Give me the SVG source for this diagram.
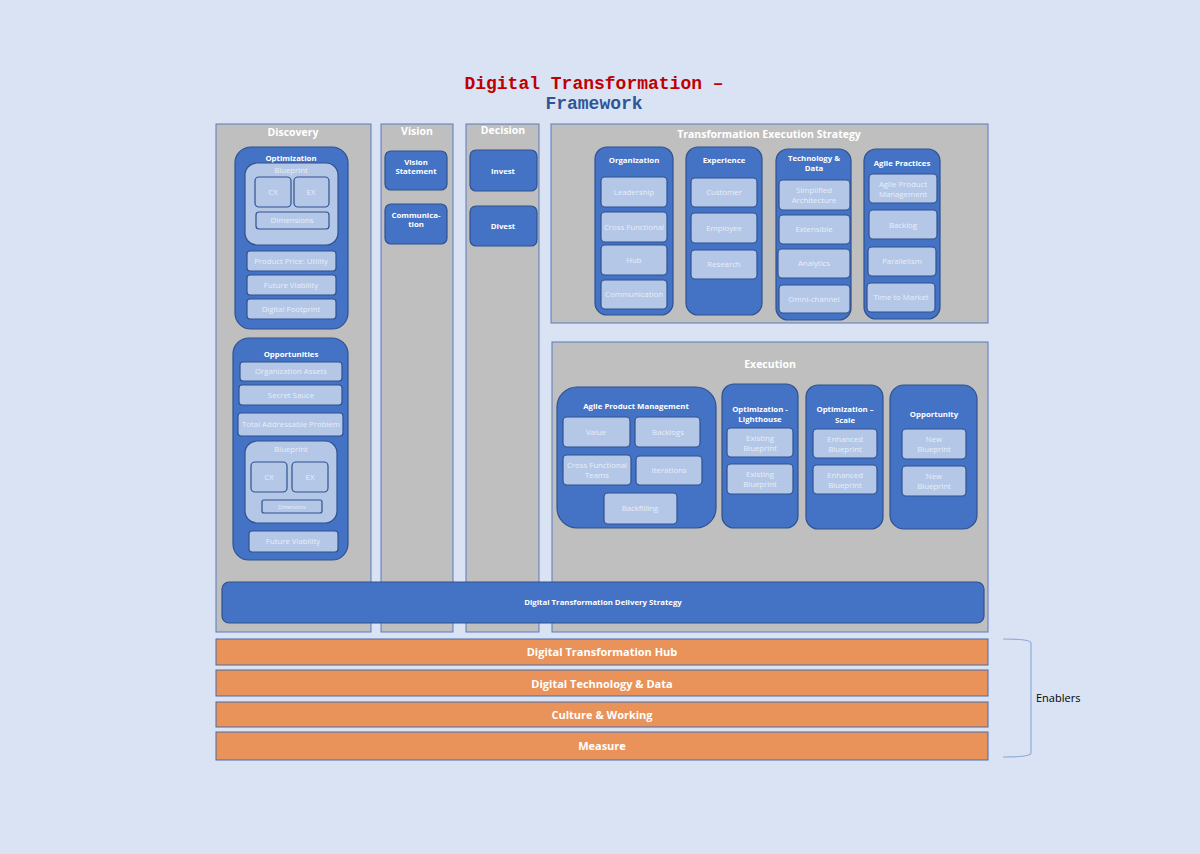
<svg xmlns="http://www.w3.org/2000/svg" width="1200" height="854" viewBox="0 0 1200 854">
<style>
text{font-family:"Open Sans","Liberation Sans",sans-serif;text-anchor:middle}
.g{fill:#bfbfbf;stroke:#5a7bc0;stroke-width:1}
.b{fill:#4472c4;stroke:#2f528f;stroke-width:1.2}
.l{fill:#b4c7e7;stroke:#2f528f;stroke-width:1.2}
.o{fill:#e9935a;stroke:#4a6aaa;stroke-width:1}
.h{fill:#fff;font-weight:bold;font-size:10.5px}
.hb{fill:#fff;font-weight:bold;font-size:7.8px}
.t{fill:#e8eef8;font-size:7.8px}
.oh{fill:#fff;font-weight:bold;font-size:11px}
.ti{font-family:"Liberation Mono",monospace;font-weight:bold;font-size:18px}
</style>
<rect width="1200" height="854" fill="#dae3f3"/>
<g id="title">
<text class="ti" x="594" y="89" fill="#c00000">Digital Transformation –</text>
<text class="ti" x="594" y="109" fill="#2f5597">Framework</text>
</g>
<g id="discovery">
<rect class="g" x="216" y="124" width="155" height="508"/>
<text class="h" x="293" y="136">Discovery</text>
<rect class="b" x="235" y="147" width="113" height="182" rx="16"/>
<text class="hb" x="291" y="161">Optimization</text>
<rect class="l" x="245" y="163" width="93" height="82" rx="12"/>
<text class="t" x="291" y="173">Blueprint</text>
<rect class="l" x="255" y="177" width="36" height="30" rx="4"/><text class="t" x="273" y="195">CX</text>
<rect class="l" x="294" y="177" width="35" height="30" rx="4"/><text class="t" x="311" y="195">EX</text>
<rect class="l" x="256" y="212" width="73" height="17" rx="3"/><text class="t" x="292" y="223">Dimensions</text>
<rect class="l" x="247" y="251" width="89" height="20" rx="3"/><text class="t" x="291" y="264">Product Price: Utility</text>
<rect class="l" x="247" y="275" width="89" height="20" rx="3"/><text class="t" x="291" y="288">Future Viability</text>
<rect class="l" x="247" y="299" width="89" height="20" rx="3"/><text class="t" x="291" y="312">Digital Footprint</text>
<rect class="b" x="233" y="338" width="115" height="222" rx="16"/>
<text class="hb" x="291" y="357">Opportunities</text>
<rect class="l" x="240" y="362" width="102" height="19" rx="3"/><text class="t" x="291" y="374">Organization Assets</text>
<rect class="l" x="239" y="385" width="103" height="20" rx="3"/><text class="t" x="291" y="398">Secret Sauce</text>
<rect class="l" x="238" y="413" width="105" height="23" rx="3"/><text class="t" x="291" y="427">Total Addressable Problem</text>
<rect class="l" x="245" y="441" width="92" height="82" rx="12"/>
<text class="t" x="291" y="452">Blueprint</text>
<rect class="l" x="251" y="462" width="36" height="30" rx="4"/><text class="t" x="269" y="480">CX</text>
<rect class="l" x="292" y="462" width="36" height="30" rx="4"/><text class="t" x="310" y="480">EX</text>
<rect class="l" x="262" y="500" width="60" height="13" rx="2"/><text class="t" x="292" y="509" style="font-size:5px">Dimensions</text>
<rect class="l" x="249" y="531" width="89" height="21" rx="3"/><text class="t" x="293" y="544">Future Viability</text>
</g>
<g id="vision">
<rect class="g" x="381" y="124" width="72" height="508"/>
<text class="h" x="417" y="135">Vision</text>
<rect class="b" x="385" y="151" width="62" height="39" rx="6"/>
<text class="hb" x="416" y="165">Vision</text><text class="hb" x="416" y="174">Statement</text>
<rect class="b" x="385" y="204" width="62" height="40" rx="6"/>
<text class="hb" x="416" y="218">Communica-</text><text class="hb" x="416" y="227">tion</text>
</g>
<g id="decision">
<rect class="g" x="466" y="124" width="73" height="508"/>
<text class="h" x="503" y="134">Decision</text>
<rect class="b" x="470" y="150" width="67" height="41" rx="6"/><text class="hb" x="503" y="174">Invest</text>
<rect class="b" x="470" y="206" width="67" height="40" rx="6"/><text class="hb" x="503" y="229">Divest</text>
</g>
<g id="tes">
<rect class="g" x="551" y="124" width="437" height="199"/>
<text class="h" x="769" y="138">Transformation Execution Strategy</text>
<rect class="b" x="595" y="147" width="78" height="168" rx="12"/><text class="hb" x="634" y="163">Organization</text>
<rect class="l" x="601" y="177" width="66" height="30" rx="4"/><text class="t" x="634" y="195">Leadership</text>
<rect class="l" x="601" y="212" width="66" height="30" rx="4"/><text class="t" x="634" y="230">Cross Functional</text>
<rect class="l" x="601" y="245" width="66" height="30" rx="4"/><text class="t" x="634" y="263">Hub</text>
<rect class="l" x="601" y="280" width="66" height="29" rx="4"/><text class="t" x="634" y="297">Communication</text>
<rect class="b" x="686" y="147" width="76" height="168" rx="12"/><text class="hb" x="724" y="163">Experience</text>
<rect class="l" x="691" y="178" width="66" height="29" rx="4"/><text class="t" x="724" y="195">Customer</text>
<rect class="l" x="691" y="213" width="66" height="30" rx="4"/><text class="t" x="724" y="231">Employee</text>
<rect class="l" x="691" y="250" width="66" height="29" rx="4"/><text class="t" x="724" y="267">Research</text>
<rect class="b" x="776" y="149" width="75" height="171" rx="12"/><text class="hb" x="814" y="161">Technology &amp;</text><text class="hb" x="814" y="171">Data</text>
<rect class="l" x="779" y="180" width="71" height="30" rx="4"/><text class="t" x="814" y="193">Simplified</text><text class="t" x="814" y="203">Architecture</text>
<rect class="l" x="779" y="215" width="71" height="29" rx="4"/><text class="t" x="814" y="232">Extensible</text>
<rect class="l" x="778" y="249" width="72" height="29" rx="4"/><text class="t" x="814" y="266">Analytics</text>
<rect class="l" x="779" y="285" width="71" height="28" rx="4"/><text class="t" x="814" y="302">Omni-channel</text>
<rect class="b" x="864" y="149" width="76" height="170" rx="12"/><text class="hb" x="902" y="166">Agile Practices</text>
<rect class="l" x="869" y="174" width="68" height="29" rx="4"/><text class="t" x="903" y="187">Agile Product</text><text class="t" x="903" y="197">Management</text>
<rect class="l" x="869" y="210" width="68" height="29" rx="4"/><text class="t" x="903" y="228">Backlog</text>
<rect class="l" x="868" y="247" width="68" height="29" rx="4"/><text class="t" x="902" y="264">Parallelism</text>
<rect class="l" x="867" y="283" width="68" height="29" rx="4"/><text class="t" x="901" y="300">Time to Market</text>
</g>
<g id="execution">
<rect class="g" x="552" y="342" width="436" height="290"/>
<text class="h" x="770" y="368">Execution</text>
<rect class="b" x="557" y="387" width="159" height="141" rx="20"/><text class="hb" x="636" y="409">Agile Product Management</text>
<rect class="l" x="563" y="417" width="67" height="30" rx="4"/><text class="t" x="596" y="435">Value</text>
<rect class="l" x="635" y="417" width="65" height="30" rx="4"/><text class="t" x="668" y="435">Backlogs</text>
<rect class="l" x="563" y="455" width="68" height="30" rx="4"/><text class="t" x="597" y="468">Cross Functional</text><text class="t" x="597" y="478">Teams</text>
<rect class="l" x="636" y="456" width="66" height="29" rx="4"/><text class="t" x="669" y="473">Iterations</text>
<rect class="l" x="604" y="493" width="73" height="31" rx="4"/><text class="t" x="640" y="511">Backfilling</text>
<rect class="b" x="722" y="384" width="76" height="144" rx="12"/><text class="hb" x="760" y="412">Optimization -</text><text class="hb" x="760" y="422">Lighthouse</text>
<rect class="l" x="727" y="428" width="66" height="29" rx="4"/><text class="t" x="760" y="441">Existing</text><text class="t" x="760" y="451">Blueprint</text>
<rect class="l" x="727" y="464" width="66" height="30" rx="4"/><text class="t" x="760" y="477">Existing</text><text class="t" x="760" y="487">Blueprint</text>
<rect class="b" x="806" y="385" width="77" height="144" rx="12"/><text class="hb" x="845" y="412">Optimization –</text><text class="hb" x="845" y="423">Scale</text>
<rect class="l" x="813" y="429" width="64" height="29" rx="4"/><text class="t" x="845" y="442">Enhanced</text><text class="t" x="845" y="452">Blueprint</text>
<rect class="l" x="813" y="465" width="64" height="29" rx="4"/><text class="t" x="845" y="478">Enhanced</text><text class="t" x="845" y="488">Blueprint</text>
<rect class="b" x="890" y="385" width="87" height="144" rx="14"/><text class="hb" x="934" y="417">Opportunity</text>
<rect class="l" x="902" y="429" width="64" height="30" rx="4"/><text class="t" x="934" y="442">New</text><text class="t" x="934" y="452">Blueprint</text>
<rect class="l" x="902" y="466" width="64" height="30" rx="4"/><text class="t" x="934" y="479">New</text><text class="t" x="934" y="489">Blueprint</text>
</g>
<g id="delivery">
<rect class="b" x="222" y="582" width="762" height="41" rx="7"/>
<text class="hb" x="603" y="605">Digital Transformation Delivery  Strategy</text>
</g>
<g id="enablers">
<rect class="o" x="216" y="639" width="772" height="26"/><text class="oh" x="602" y="656">Digital Transformation Hub</text>
<rect class="o" x="216" y="670" width="772" height="26"/><text class="oh" x="602" y="688">Digital Technology &amp; Data</text>
<rect class="o" x="216" y="702" width="772" height="25"/><text class="oh" x="602" y="719">Culture &amp; Working</text>
<rect class="o" x="216" y="732" width="772" height="28"/><text class="oh" x="602" y="750">Measure</text>
</g>
<g id="connectors">
<path d="M1003,639 Q1031,639 1031,643 L1031,753 Q1031,757 1003,757" fill="none" stroke="#8faadc" stroke-width="1.2"/>
</g>
<text x="1036" y="702" style="text-anchor:start;font-size:11px;fill:#000">Enablers</text>
</svg>
